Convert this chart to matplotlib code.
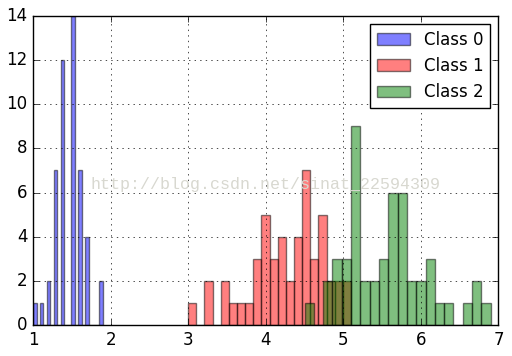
import matplotlib
matplotlib.use("Agg")
import matplotlib.pyplot as plt
import numpy as np

# bin ranges (min, max) per class, 20 bins each
RANGES = [(1.0, 1.9), (3.0, 5.1), (4.5, 6.9)]

# counts per bin
COUNTS_0 = [1, 0, 1, 0, 2, 0, 7, 0, 12, 0, 0, 14, 0, 7, 0, 4, 0, 0, 0, 2]
COUNTS_1 = [1, 0, 2, 0, 2, 1, 1, 1, 3, 5, 3, 4, 2, 4, 7, 3, 5, 2, 2, 2]
COUNTS_2 = [1, 0, 2, 3, 3, 9, 2, 2, 3, 6, 6, 2, 2, 3, 1, 1, 0, 1, 2, 1]

LABELS = ["Class 0", "Class 1", "Class 2"]
COLORS = ["blue", "red", "green"]

plt.style.use("classic")

fig = plt.figure(figsize=(5.12, 3.56), dpi=100, facecolor="white")
ax = fig.add_axes([0.0645, 0.0862, 0.909, 0.870])

for (lo, hi), counts, label, color in zip(
    RANGES, [COUNTS_0, COUNTS_1, COUNTS_2], LABELS, COLORS
):
    edges = np.linspace(lo, hi, len(counts) + 1)
    ax.hist(edges[:-1], bins=edges, weights=counts, color=color,
            alpha=0.5, label=label)

ax.set_xlim(1, 7)
ax.set_ylim(0, 14)
ax.set_xticks(range(1, 8))
ax.set_yticks(range(0, 15, 2))
ax.grid(True, linestyle=":", color="black")
ax.legend(loc="upper right", fontsize=12)

fig.text(0.176, 0.47, "http://blog.csdn.net/sinat_22594309",
         family="Liberation Mono", fontsize=12, color="#d8d8d0")

fig.savefig("out.png", dpi=100, facecolor="white")
